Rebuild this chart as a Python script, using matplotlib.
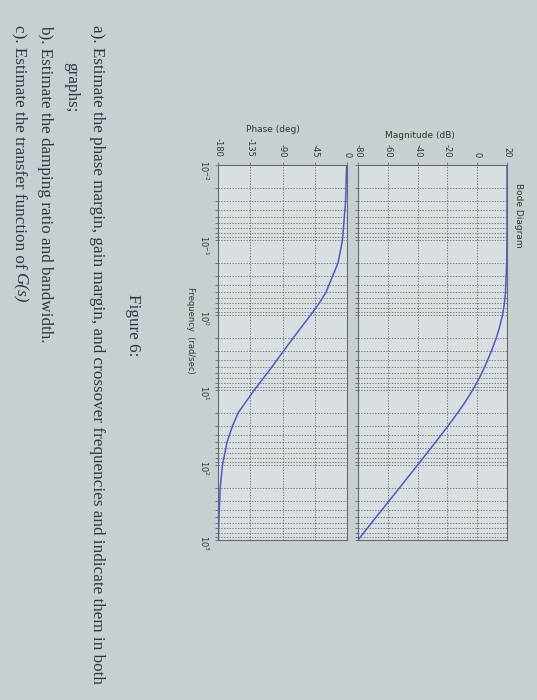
import matplotlib
matplotlib.use("Agg")
import matplotlib.pyplot as plt
from matplotlib.ticker import FixedLocator, NullFormatter

freq = [0.01, 0.03, 0.1, 0.2, 0.5, 0.7, 1, 1.5, 2, 3, 5, 7, 10, 15, 20, 30, 50, 100, 200, 500, 1000]
mag_db = [20.0, 20.0, 19.96, 19.8, 19.0, 18.3, 17.0, 14.8, 12.9, 9.6, 4.9, 1.3, -3.0, -8.6, -13.0,
          -19.5, -28.1, -40.0, -52.0, -68.0, -80.0]
phase_deg = [-0.6, -1.9, -6.3, -12.4, -29.4, -39.0, -50.7, -64.8, -74.7, -88.3, -105.3, -116.9,
             -129.3, -142.5, -151.7, -159.7, -167.5, -173.7, -176.9, -178.7, -179.4]
phase_ticks = [-180, -135, -90, -45, 0]
mag_ticks = [-80, -60, -40, -20, 0, 20]
freq_ticks = [1e-2, 1e-1, 1e0, 1e1, 1e2, 1e3]
freq_labels = [r"$10^{-2}$", r"$10^{-1}$", r"$10^{0}$", r"$10^{1}$", r"$10^{2}$", r"$10^{3}$"]

plt.rcParams["mathtext.fontset"] = "dejavusans"
W, H = 537, 700
bg = "#c8cfd1"
fig = plt.figure(figsize=(W / 100, H / 100), dpi=100, facecolor=bg)

def px_ax(x0, x1, y0, y1):
    return fig.add_axes([x0 / W, 1 - y1 / H, (x1 - x0) / W, (y1 - y0) / H])

axp = px_ax(218, 347, 165, 540)
axm = px_ax(358, 507, 165, 540)
line_c = "#5456c8"
minor = [m * 10.0 ** e for e in range(-2, 3) for m in range(2, 10)]
for ax, xs, ticks, lim in [(axp, phase_deg, phase_ticks, (-180, 0)), (axm, mag_db, mag_ticks, (-80, 20))]:
    ax.set_facecolor("#d9dfe0")
    ax.plot(xs, freq, color=line_c, lw=1.1)
    ax.set_yscale("log")
    ax.set_ylim(1e3, 1e-2)
    ax.set_xlim(*lim)
    ax.set_xticks(ticks)
    ax.set_xticklabels([str(t) for t in ticks], rotation=-90, fontsize=6, color="#333333")
    ax.xaxis.tick_top()
    ax.yaxis.set_major_locator(FixedLocator(freq_ticks))
    ax.yaxis.set_minor_locator(FixedLocator(minor))
    ax.yaxis.set_minor_formatter(NullFormatter())
    ax.grid(True, which="both", axis="y", ls=(0, (2, 2)), color="#555555", lw=0.5)
    ax.grid(True, which="major", axis="x", ls=(0, (2, 2)), color="#555555", lw=0.5)
    ax.tick_params(axis="both", which="both", length=2, width=0.5, color="#555555")
    for s in ax.spines.values():
        s.set_color("#666677")
        s.set_linewidth(0.8)

axp.set_yticklabels(freq_labels, rotation=-90, fontsize=6, color="#333333")
axm.set_yticklabels([])

def ftext(x, y, s, **kw):
    fig.text(x / W, 1 - y / H, s, **kw)

ftext(273, 130, "Phase (deg)", fontsize=6.5, ha="center", va="center", color="#333333")
ftext(420, 135, "Magnitude (dB)", fontsize=6.5, ha="center", va="center", color="#333333")
ftext(518, 215, "Bode Diagram", fontsize=6.5, rotation=-90, ha="center", va="center", color="#333333")
ftext(190, 330, "Frequency  (rad/sec)", fontsize=6, rotation=-90, ha="center", va="center", color="#333333")

serif = dict(family="Liberation Serif", fontsize=12.3, rotation=-90, ha="center", va="top", color="#333344")
ftext(133, 325, "Figure 6:", **{**serif, "va": "center"})
ftext(97, 25, "a). Estimate the phase margin, gain margin, and crossover frequencies and indicate them in both", **serif)
ftext(71, 62, "graphs;", **serif)
ftext(45, 25, "b). Estimate the damping ratio and bandwidth.", **serif)
ftext(20, 25, "c). Estimate the transfer function of ", **serif)
ftext(20, 272, "G(s)", **{**serif, "style": "italic"})

fig.savefig("out.png", dpi=100, facecolor=bg)
